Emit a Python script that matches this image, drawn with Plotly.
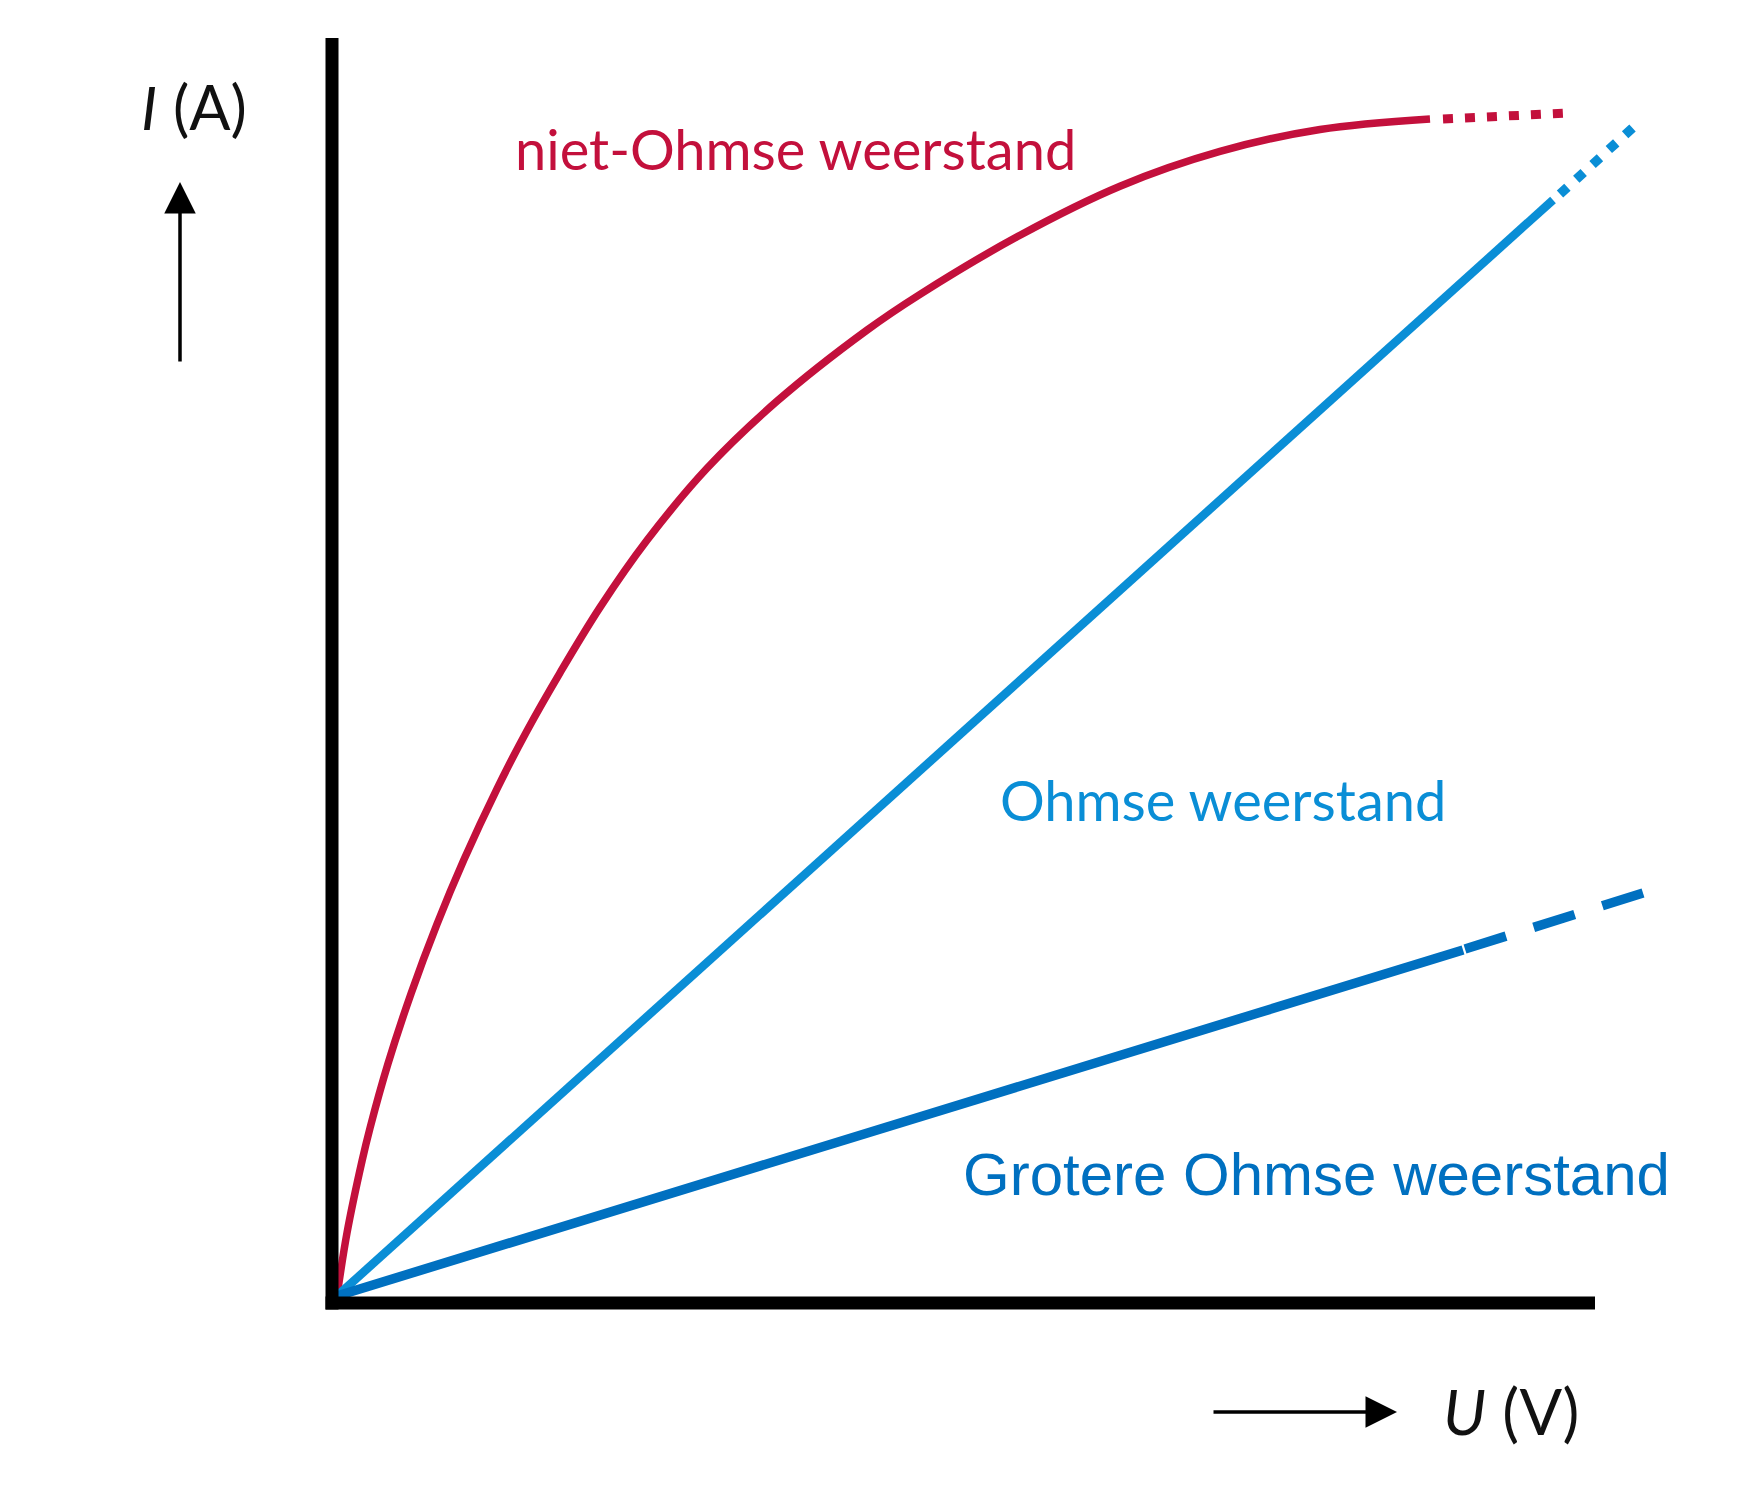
import plotly.graph_objects as go

# ---- data (U in arbitrary volt units, I in arbitrary ampere units) ----
red_u = [0.0, 0.10, 0.25, 0.33, 0.51, 0.74, 1.00, 1.27, 1.60, 1.90, 2.23, 2.63, 3.10,
         3.70, 4.40, 5.30, 5.83, 6.83, 7.83, 8.83, 9.83, 10.93]
red_i = [0.0, 0.631, 1.349, 1.679, 2.323, 3.023, 3.718, 4.364, 5.072, 5.653, 6.232, 6.886, 7.557,
         8.277, 8.948, 9.659, 10.017, 10.608, 11.098, 11.446, 11.665, 11.770]
red_ext_u = [11.06, 11.70, 12.32]
red_ext_i = [11.77, 11.81, 11.83]

ohm_u = [0.0, 12.16]
ohm_i = [0.0, 10.96]
ohm_ext_u = [12.23, 13.00]
ohm_ext_i = [11.02, 11.72]

big_u = [0.0, 11.26]
big_i = [0.0, 3.46]
big_ext_u = [11.28, 13.06]
big_ext_i = [3.47, 4.03]

label_texts = ["niet-Ohmse weerstand", "Ohmse weerstand", "Grotere Ohmse weerstand"]
label_u = [4.58, 8.86, 9.79]
label_i = [11.48, 4.97, 1.22]

axis_u_max = 12.58
axis_i_max = 12.58

RED = "#C3103C"
LBLUE = "#0A8ED6"
DBLUE = "#0070C0"

fig = go.Figure()

fig.add_trace(go.Scatter(x=red_u, y=red_i, mode="lines",
                         line=dict(color=RED, width=7.5, shape="spline", smoothing=1.0)))
fig.add_trace(go.Scatter(x=red_ext_u, y=red_ext_i, mode="lines",
                         line=dict(color=RED, width=9, dash="10px,12px")))
fig.add_trace(go.Scatter(x=ohm_u, y=ohm_i, mode="lines",
                         line=dict(color=LBLUE, width=8.5)))
fig.add_trace(go.Scatter(x=ohm_ext_u, y=ohm_ext_i, mode="lines",
                         line=dict(color=LBLUE, width=9.5, dash="10px,12px")))
fig.add_trace(go.Scatter(x=big_u, y=big_i, mode="lines",
                         line=dict(color=DBLUE, width=9.5)))
fig.add_trace(go.Scatter(x=big_ext_u, y=big_ext_i, mode="lines",
                         line=dict(color=DBLUE, width=9.5, dash="43px,29px")))

# axes drawn as thick black lines
fig.add_shape(type="line", x0=-0.05, x1=-0.05, y0=-0.135, y1=axis_i_max,
              line=dict(color="black", width=13))
fig.add_shape(type="line", x0=-0.115, x1=axis_u_max, y0=-0.07, y1=-0.07,
              line=dict(color="black", width=13))

hum = "Lato, 'Open Sans', sans-serif"
fig.add_annotation(x=label_u[0], y=label_i[0], text=label_texts[0], showarrow=False,
                   font=dict(family=hum, size=56, color=RED), xanchor="center", yanchor="middle")
fig.add_annotation(x=label_u[1], y=label_i[1], text=label_texts[1], showarrow=False,
                   font=dict(family=hum, size=56, color=LBLUE), xanchor="center", yanchor="middle")
fig.add_annotation(x=label_u[2], y=label_i[2], text=label_texts[2], showarrow=False,
                   font=dict(family="'Liberation Sans', Arial, sans-serif", size=60, color=DBLUE),
                   xanchor="center", yanchor="middle")

# axis titles
fig.add_annotation(x=-1.43, y=11.90, text="<i>I</i> (A)", showarrow=False,
                   font=dict(family=hum, size=61, color="#111111"), xanchor="center", yanchor="middle")
fig.add_annotation(x=11.74, y=-1.14, text="<i>U</i> (V)", showarrow=False,
                   font=dict(family=hum, size=63, color="#111111"), xanchor="center", yanchor="middle")

# arrows
fig.add_annotation(x=-1.57, y=11.14, ax=0, ay=181, text="", showarrow=True,
                   arrowhead=2, arrowsize=1.8, arrowwidth=3.5, arrowcolor="black")
fig.add_annotation(x=10.60, y=-1.16, ax=-185, ay=0, text="", showarrow=True,
                   arrowhead=2, arrowsize=1.8, arrowwidth=3.5, arrowcolor="black")

fig.update_layout(
    width=1750, height=1489, autosize=False,
    margin=dict(l=0, r=0, t=0, b=0, pad=0),
    paper_bgcolor="white", plot_bgcolor="white",
    showlegend=False,
    xaxis=dict(range=[-3.37, 14.13], visible=False, fixedrange=True),
    yaxis=dict(range=[-1.93, 12.96], visible=False, fixedrange=True),
)

fig.write_html("out.html", config={"displayModeBar": False},
               post_script="document.body.style.margin='0';")
